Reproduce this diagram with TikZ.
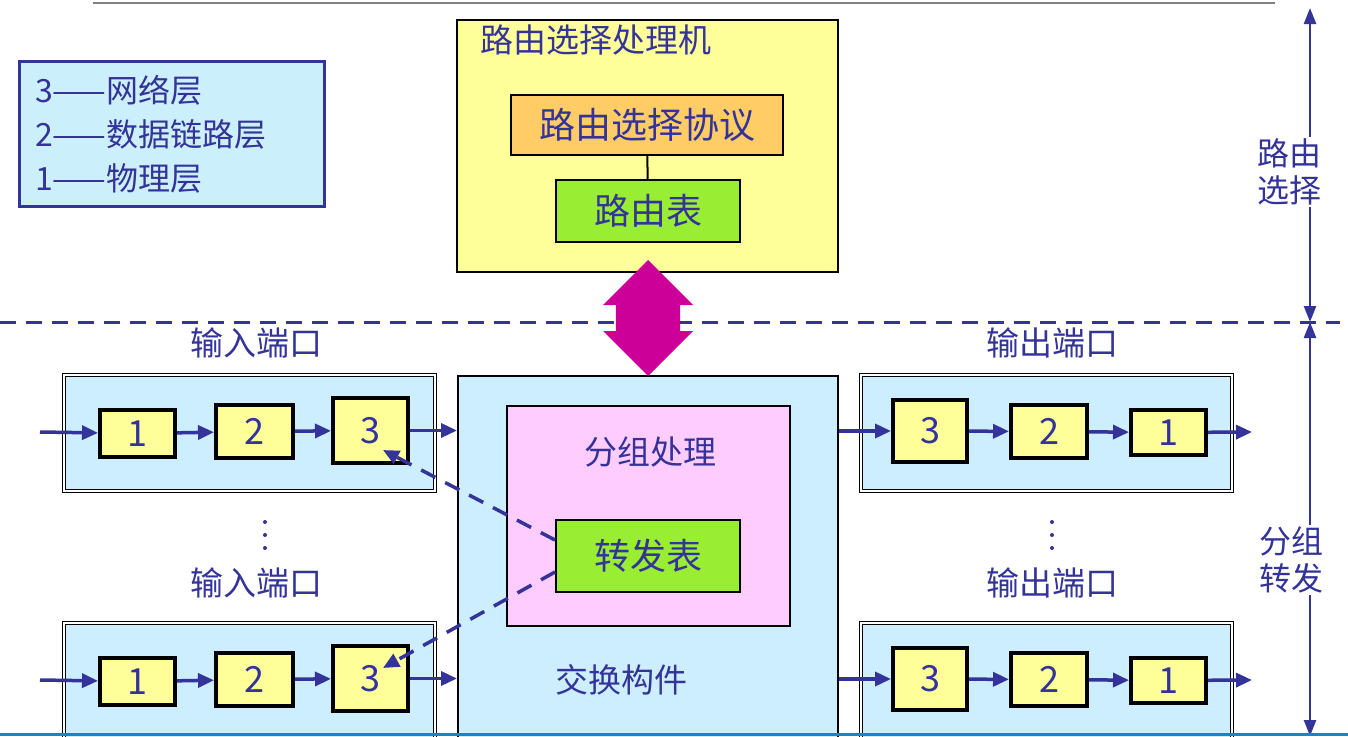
\documentclass[tikz,border=0pt]{standalone}
\usepackage{fontspec}
\setmainfont{Noto Sans CJK SC}
\usetikzlibrary{arrows.meta,shapes.arrows}
\definecolor{navy}{HTML}{333399}
\definecolor{ly}{HTML}{FFFF99}
\definecolor{lb}{HTML}{CCEEFF}
\definecolor{gr}{HTML}{99EE33}
\definecolor{pk}{HTML}{FFCCFF}
\definecolor{org}{HTML}{FFCC66}
\definecolor{mag}{HTML}{CC0099}
\begin{document}
\begin{tikzpicture}[x=1pt,y=-1pt,
  txt/.style={text=navy,font=\fontsize{33}{36}\selectfont,inner sep=0},
  sm/.style={draw=black,line width=4pt,fill=ly,text=navy,font=\fontsize{36}{38}\selectfont,inner sep=0},
  port/.style={draw=black,double=white,double distance=2pt,line width=1pt,fill=lb},
  ar/.style={navy,line width=3.5pt,-{Triangle[length=16pt,width=14pt]}},
  dar/.style={navy,line width=3.5pt,dash pattern=on 16pt off 11pt,-{Triangle[length=16pt,width=14pt]}},
  gbox/.style={draw=black,line width=2pt,fill=gr,text=navy,font=\fontsize{36}{38}\selectfont}]
\useasboundingbox (0,0) rectangle (1348,736);
\draw[gray,line width=2pt] (93,3) -- (1275,3);
% legend
\node[draw=navy,line width=3.5pt,fill=cyan!20,minimum width=305pt,minimum height=145pt] (leg) at (172,134) {};
\node[txt,anchor=west,align=left,font=\fontsize{32}{44}\selectfont] (legt) at (35,134) {3——网络层\\2——数据链路层\\1——物理层};
% routing processor
\node[draw=black,line width=1.5pt,fill=ly,minimum width=381pt,minimum height=252pt] (rp) at (647.5,146) {};
\node[txt,anchor=west] (rpt) at (480,40) {路由选择处理机};
\node[draw=black,line width=2pt,fill=org,text=navy,font=\fontsize{36}{38}\selectfont,minimum width=272pt,minimum height=60pt] (prot) at (647,125) {路由选择协议};
\node[gbox,minimum width=184pt,minimum height=62pt] (rt) at (648,211) {路由表};
\draw[line width=2pt] (prot) -- (rt);
% dashed line
\draw[navy,line width=3pt,dash pattern=on 16pt off 10pt] (0,322) -- (1340,322);
% switch fabric
\node[draw=black,line width=1.5pt,fill=lb,minimum width=380pt,minimum height=380pt,anchor=north west] (sf) at (457,375) {};
\node[draw=black,line width=2pt,fill=pk,minimum width=283pt,minimum height=220pt,anchor=north west] (pp) at (506,405) {};
\node[txt] (ppt) at (650,452) {分组处理};
\node[gbox,minimum width=184pt,minimum height=72pt] (ft) at (648,556) {转发表};
\node[txt] (sft) at (621,680) {交换构件};
% magenta arrow
\node[double arrow,fill=mag,minimum height=116pt,minimum width=90pt,double arrow head extend=10pt,shape border rotate=90,inner sep=0,text width=50pt] (ma) at (648,318) {};
% right arrows
\coordinate (r0) at (1310,8); \coordinate (r1) at (1310,322); \coordinate (r2) at (1310,736);
\draw[navy,line width=2.5pt,{Triangle[length=16pt,width=12pt]}-{Triangle[length=16pt,width=12pt]}] (r0) -- (r1);
\draw[navy,line width=2.5pt,{Triangle[length=16pt,width=12pt]}-{Triangle[length=16pt,width=12pt]}] (r1) -- (r2);
\node[txt,fill=white,align=center,font=\fontsize{32}{37}\selectfont,inner sep=2pt] (lr) at (1289,172) {路由\\选择};
\node[txt,fill=white,align=center,font=\fontsize{32}{37}\selectfont,inner sep=2pt] (lf) at (1291,560) {分组\\转发};
% labels
\node[txt] (il1) at (256,343) {输入端口};
\node[txt] (il2) at (256,583) {输入端口};
\node[txt] (ol1) at (1052,343) {输出端口};
\node[txt] (ol2) at (1052,583) {输出端口};
\foreach \x/\n in {265/d1,1052/d2}{
  \node[circle,fill=navy,inner sep=0,minimum size=4pt] (\n a) at (\x,522) {};
  \node[circle,fill=navy,inner sep=0,minimum size=4pt] (\n b) at (\x,535) {};
  \node[circle,fill=navy,inner sep=0,minimum size=4pt] (\n c) at (\x,548) {};
}
% ports
\foreach \dy/\n in {0/a,248/b}{
  \node[port,minimum width=371pt,minimum height=116pt,anchor=north west] (ip\n) at (63,374+\dy) {};
  \node[port,minimum width=371pt,minimum height=116pt,anchor=north west] (op\n) at (860,374+\dy) {};
  \coordinate (in\n) at (40,432+\dy);
  \node[sm,minimum width=75pt,minimum height=47pt] (i1\n) at (137.5,433.5+\dy) {1};
  \node[sm,minimum width=77pt,minimum height=53pt] (i2\n) at (254.5,431.5+\dy) {2};
  \node[sm,minimum width=75pt,minimum height=65pt] (i3\n) at (370.5,430.5+\dy) {3};
  \draw[ar] (in\n) -- (i1\n);
  \draw[ar] (i1\n) -- (i2\n);
  \draw[ar] (i2\n) -- (i3\n);
  \draw[ar] (i3\n.east) -- (sf.west |- i3\n.east);
  \node[sm,minimum width=74pt,minimum height=62pt] (o3\n) at (930,431+\dy) {3};
  \node[sm,minimum width=76pt,minimum height=53pt] (o2\n) at (1049,431.5+\dy) {2};
  \node[sm,minimum width=75pt,minimum height=45pt] (o1\n) at (1168.5,432.5+\dy) {1};
  \coordinate (out\n) at (1252,432+\dy);
  \draw[ar] (sf.east |- o3\n.west) -- (o3\n);
  \draw[ar] (o3\n) -- (o2\n);
  \draw[ar] (o2\n) -- (o1\n);
  \draw[ar] (o1\n) -- (out\n);
}
\coordinate (ta) at (383,450);
\coordinate (tb) at (383,668);
\draw[dar] (ft.west |- 0,540) -- (ta);
\draw[dar] (ft.west |- 0,572) -- (tb);
\draw[cyan!70!blue,line width=3pt] (0,734) -- (1348,734);
\end{tikzpicture}
\end{document}
